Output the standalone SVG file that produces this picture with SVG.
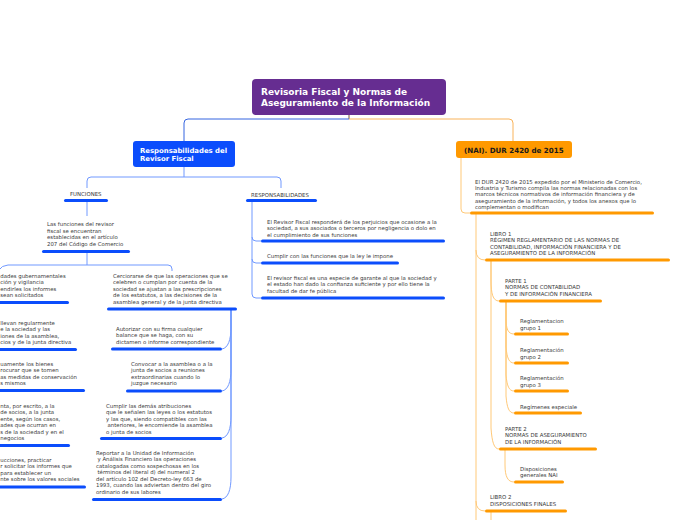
<svg xmlns="http://www.w3.org/2000/svg" width="697" height="520" viewBox="0 0 697 520">
<style>
.t{font-family:"DejaVu Sans",Verdana,sans-serif;font-size:5.4px;fill:#3a3a3a}
.ub{stroke:#0b4dfc;stroke-width:3;stroke-linecap:round}
.uo{stroke:#ff9900;stroke-width:3;stroke-linecap:round}
.lb{stroke:#7199ff;stroke-width:1;fill:none}
.lo{stroke:#ffc978;stroke-width:1;fill:none}
</style>
<rect width="697" height="520" fill="#ffffff"/>
<g id="connectors">
<path d="M349,115 V119" stroke="#8a6f60" stroke-width="1.2" fill="none"/>
<path d="M349,119 H188 Q184,119 184,123 V141" stroke="#3565e0" stroke-width="1" fill="none"/>
<path d="M349,119 H509 Q513,119 513,123 V141" stroke="#f9b35a" stroke-width="1" fill="none"/>
<path class="lb" d="M184,167 V177 M184,177 H91 Q87,177 87,181 V188 M184,177 H277 Q281,177 281,181 V188"/>
<path class="lb" d="M87,201 V216"/>
<path class="lb" d="M87,252 V265 M87,265 H168 Q172,265 172,269 V271 M87,265 H8 Q2,265 -2,271"/>
<path class="lb" d="M231,309 V327 C231,340 228,348 222,349"/>
<path class="lb" d="M231,309 V369 C231,382 228,390 222,391"/>
<path class="lb" d="M231,309 V416 C231,429 228,437 222,438"/>
<path class="lb" d="M231,309 V477 C231,490 228,498 222,499"/>
<path class="lb" d="M252,201 V237 Q252,241 256,241 H261 M252,237 V259 Q252,263 256,263 H261 M252,259 V294 Q252,298 256,298 H261"/>
<path class="lo" d="M461,158 V209 Q461,213 465,213 H470"/>
<path class="lo" d="M476,213 V525 M476,250 Q476,260 485,260 M476,501 Q476,511 485,511"/>
<path class="lo" d="M491,260 V280 C491,294 493,301 499,301"/>
<path class="lo" d="M491,260 V428 C492,442 494,449 499,449"/>
<path class="lo" d="M506,301 V318 C506,329 508,334 514,334"/>
<path class="lo" d="M506,301 V347 C507,358 509,363 514,363"/>
<path class="lo" d="M506,301 V375 C507,386 509,391 514,391"/>
<path class="lo" d="M506,301 V396 C507,408 509,413 514,413"/>
<path class="lo" d="M505,449 V465 C505,477 508,482 514,482"/>
<path class="lo" d="M491,511 V525"/>
</g>
<g id="root">
<rect x="252" y="79" width="194" height="36" rx="4" fill="#662d91"/>
<text x="261" y="95" font-family="'DejaVu Sans',Verdana,sans-serif" font-size="9" font-weight="bold" fill="#ffffff">Revisoria Fiscal y Normas de</text>
<text x="261" y="106" font-family="'DejaVu Sans',Verdana,sans-serif" font-size="9" font-weight="bold" fill="#ffffff">Aseguramiento de la Información</text>
</g>
<g id="resp-revisor">
<rect x="133" y="141" width="102" height="26" rx="3" fill="#0b4dfc"/>
<text x="140" y="153" font-family="'DejaVu Sans',Verdana,sans-serif" font-size="6.9" font-weight="bold" fill="#ffffff">Responsabilidades del</text>
<text x="140" y="161" font-family="'DejaVu Sans',Verdana,sans-serif" font-size="6.9" font-weight="bold" fill="#ffffff">Revisor Fiscal</text>
</g>
<g id="nai">
<rect x="456" y="141" width="116" height="17" rx="3" fill="#ff9900"/>
<text x="464" y="153" font-family="'DejaVu Sans',Verdana,sans-serif" font-size="7.1" font-weight="bold" fill="#1a1a1a">(NAI). DUR 2420 de 2015</text>
</g>
<g id="funciones">
<text class="t" x="70" y="196">FUNCIONES</text>
<line class="ub" x1="65.5" y1="200.5" x2="106.5" y2="200.5"/>
</g>
<g id="las-funciones">
<text class="t" x="47" y="226">Las funciones del revisor</text>
<text class="t" x="47" y="232.5">fiscal se encuentran</text>
<text class="t" x="47" y="239">establecidas en el artículo</text>
<text class="t" x="47" y="246">207 del Código de Comercio</text>
<line class="ub" x1="43.5" y1="251.5" x2="128.5" y2="251.5"/>
</g>
<g id="colaborar">
<text class="t" x="0.3" y="277.5">dades gubernamentales</text>
<text class="t" x="0.3" y="284">ción y vigilancia</text>
<text class="t" x="0.3" y="290.5">endirles los informes</text>
<text class="t" x="0.3" y="297">sean solicitados</text>
<line class="ub" x1="-2" y1="302.5" x2="67.5" y2="302.5"/>
</g>
<g id="velar">
<text class="t" x="0.3" y="324.5">llevan regularmente</text>
<text class="t" x="0.3" y="331">e la sociedad y las</text>
<text class="t" x="0.3" y="337.5">iones de la asamblea,</text>
<text class="t" x="0.3" y="344">cios y de la junta directiva</text>
<line class="ub" x1="-2" y1="349.5" x2="75.5" y2="349.5"/>
</g>
<g id="inspeccionar">
<text class="t" x="0.3" y="365.5">uamente los bienes</text>
<text class="t" x="0.3" y="372">rocurar que se tomen</text>
<text class="t" x="0.3" y="378.5">as medidas de conservación</text>
<text class="t" x="0.3" y="385">s mismos</text>
<line class="ub" x1="-2" y1="390.5" x2="83.5" y2="390.5"/>
</g>
<g id="dar-cuenta">
<text class="t" x="0.3" y="407.5">nta, por escrito, a la</text>
<text class="t" x="0.3" y="414">de socios, a la junta</text>
<text class="t" x="0.3" y="420.5">ente, según los casos,</text>
<text class="t" x="0.3" y="427">ades que ocurran en</text>
<text class="t" x="0.3" y="433.5">s de la sociedad y en el</text>
<text class="t" x="0.3" y="440">negocios</text>
<line class="ub" x1="-2" y1="445.5" x2="68.5" y2="445.5"/>
</g>
<g id="impartir">
<text class="t" x="0.3" y="461.5">ucciones, practicar</text>
<text class="t" x="0.3" y="468">r solicitar los informes que</text>
<text class="t" x="0.3" y="474.5">para establecer un</text>
<text class="t" x="0.3" y="481">nte sobre los valores sociales</text>
<line class="ub" x1="-2" y1="487" x2="84.5" y2="487"/>
</g>
<g id="cerciorarse">
<text class="t" x="113" y="277.5">Cerciorarse de que las operaciones que se</text>
<text class="t" x="113" y="284">celebren o cumplan por cuenta de la</text>
<text class="t" x="113" y="290.5">sociedad se ajustan a las prescripciones</text>
<text class="t" x="113" y="297">de los estatutos, a las decisiones de la</text>
<text class="t" x="113" y="303.5">asamblea general y de la junta directiva</text>
<line class="ub" x1="108.5" y1="309" x2="235.5" y2="309"/>
</g>
<g id="autorizar">
<text class="t" x="116" y="330.5">Autorizar con su firma cualquier</text>
<text class="t" x="116" y="337">balance que se haga, con su</text>
<text class="t" x="116" y="343.5">dictamen o informe correspondiente</text>
<line class="ub" x1="112.5" y1="349" x2="220.5" y2="349"/>
</g>
<g id="convocar">
<text class="t" x="131" y="365.5">Convocar a la asamblea o a la</text>
<text class="t" x="131" y="372">junta de socios a reuniones</text>
<text class="t" x="131" y="378.5">extraordinarias cuando lo</text>
<text class="t" x="131" y="385">juzgue necesario</text>
<line class="ub" x1="127.5" y1="391" x2="220.5" y2="391"/>
</g>
<g id="cumplir">
<text class="t" x="106" y="407.5">Cumplir las demás atribuciones</text>
<text class="t" x="106" y="414">que le señalen las leyes o los estatutos</text>
<text class="t" x="106" y="420.5">y las que, siendo compatibles con las</text>
<text class="t" x="107.5" y="427">anteriores, le encomiende la asamblea</text>
<text class="t" x="106" y="433.5">o junta de socios</text>
<line class="ub" x1="101.5" y1="438.5" x2="220.5" y2="438.5"/>
</g>
<g id="reportar">
<text class="t" x="96" y="454.5">Reportar a la Unidad de Información</text>
<text class="t" x="97.5" y="461">y Análisis Financiero las operaciones</text>
<text class="t" x="96" y="467.5">catalogadas como sospechosas en los</text>
<text class="t" x="97.5" y="474">términos del literal d) del numeral 2</text>
<text class="t" x="96" y="480.5">del artículo 102 del Decreto-ley 663 de</text>
<text class="t" x="96" y="487">1993, cuando las adviertan dentro del giro</text>
<text class="t" x="96" y="493.5">ordinario de sus labores</text>
<line class="ub" x1="93.5" y1="499.5" x2="220.5" y2="499.5"/>
</g>
<g id="responsabilidades">
<text class="t" x="251" y="196.5">RESPONSABILIDADES</text>
<line class="ub" x1="247.5" y1="200.5" x2="315.5" y2="200.5"/>
</g>
<g id="resp-perjuicios">
<text class="t" x="267" y="223.5">El Revisor Fiscal responderá de los perjuicios que ocasione a la</text>
<text class="t" x="267" y="230">sociedad, a sus asociados o terceros por negligencia o dolo en</text>
<text class="t" x="267" y="236.5">el cumplimiento de sus funciones</text>
<line class="ub" x1="262.5" y1="241" x2="443.5" y2="241"/>
</g>
<g id="resp-cumplir">
<text class="t" x="267" y="257.5">Cumplir con las funciones que la ley le impone</text>
<line class="ub" x1="262.5" y1="263" x2="397.5" y2="263"/>
</g>
<g id="resp-garante">
<text class="t" x="267" y="279.5">El revisor fiscal es una especie de garante al que la sociedad y</text>
<text class="t" x="267" y="286">el estado han dado la confianza suficiente y por ello tiene la</text>
<text class="t" x="267" y="292.5">facultad de dar fe pública</text>
<line class="ub" x1="262.5" y1="298" x2="443.5" y2="298"/>
</g>
<g id="dur">
<text class="t" x="475" y="183.5">El DUR 2420 de 2015 expedido por el Ministerio de Comercio,</text>
<text class="t" x="475" y="189.5">Industria y Turismo compila las normas relacionadas con los</text>
<text class="t" x="475" y="196">marcos técnicos normativos de información financiera y de</text>
<text class="t" x="475" y="202.5">aseguramiento de la información, y todos los anexos que lo</text>
<text class="t" x="475" y="208.5">complementan o modifican</text>
<line class="uo" x1="471.5" y1="213" x2="652.5" y2="213"/>
</g>
<g id="libro1">
<text class="t" x="490" y="235.5">LIBRO 1</text>
<text class="t" x="490" y="242">RÉGIMEN REGLAMENTARIO DE LAS NORMAS DE</text>
<text class="t" x="490" y="248.5">CONTABILIDAD, INFORMACIÓN FINANCIERA Y DE</text>
<text class="t" x="490" y="255">ASEGURAMIENTO DE LA INFORMACIÓN</text>
<line class="uo" x1="486.5" y1="260" x2="668.5" y2="260"/>
</g>
<g id="parte1">
<text class="t" x="505" y="282.5">PARTE 1</text>
<text class="t" x="505" y="288.5">NORMAS DE CONTABILIDAD</text>
<text class="t" x="505" y="295.5">Y DE INFORMACIÓN FINANCIERA</text>
<line class="uo" x1="500.5" y1="301" x2="600.5" y2="301"/>
</g>
<g id="grupo1">
<text class="t" x="520" y="322.5">Reglamentacion</text>
<text class="t" x="520" y="329.5">grupo 1</text>
<line class="uo" x1="515.5" y1="334" x2="567.5" y2="334"/>
</g>
<g id="grupo2">
<text class="t" x="520" y="351.5">Reglamentación</text>
<text class="t" x="520" y="358.5">grupo 2</text>
<line class="uo" x1="515.5" y1="363" x2="567.5" y2="363"/>
</g>
<g id="grupo3">
<text class="t" x="520" y="379.5">Reglamentación</text>
<text class="t" x="520" y="387">grupo 3</text>
<line class="uo" x1="515.5" y1="391" x2="567.5" y2="391"/>
</g>
<g id="regimenes">
<text class="t" x="520" y="408.5">Regímenes especiale</text>
<line class="uo" x1="515.5" y1="413" x2="580.5" y2="413"/>
</g>
<g id="parte2">
<text class="t" x="505" y="430.5">PARTE 2</text>
<text class="t" x="505" y="436.5">NORMAS DE ASEGURAMIENTO</text>
<text class="t" x="505" y="443.5">DE LA INFORMACIÓN</text>
<line class="uo" x1="500.5" y1="449" x2="595.5" y2="449"/>
</g>
<g id="disposiciones-nai">
<text class="t" x="520" y="470.5">Disposiciones</text>
<text class="t" x="520" y="476.5">generales NAI</text>
<line class="uo" x1="515.5" y1="482" x2="562.5" y2="482"/>
</g>
<g id="libro2">
<text class="t" x="490" y="498.5">LIBRO 2</text>
<text class="t" x="490" y="505.5">DISPOSICIONES FINALES</text>
<line class="uo" x1="486.5" y1="511" x2="565.5" y2="511"/>
</g>
</svg>
